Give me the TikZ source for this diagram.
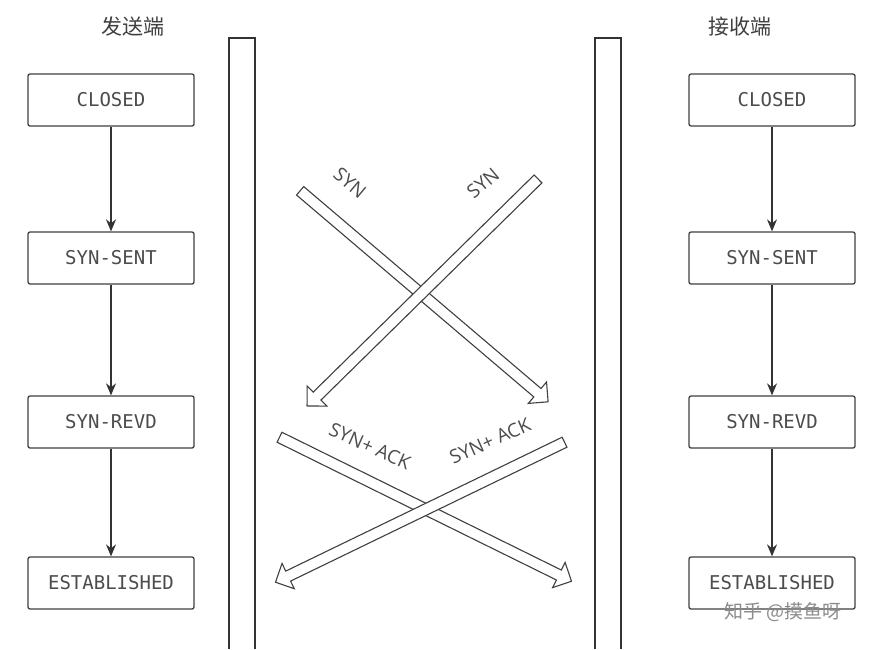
\documentclass[tikz,border=0pt]{standalone}
\usepackage{fontspec}
\setmainfont{Open Sans}
\setmonofont{DejaVu Sans Mono}
\newfontfamily\cjk{Noto Sans CJK SC}
\usetikzlibrary{shapes.arrows,calc,arrows.meta}
\begin{document}
\begin{tikzpicture}[x=1pt,y=-1pt,
  box/.style={draw=black!75,line width=1.3pt,rounded corners=2pt,minimum width=166pt,minimum height=52pt,font=\ttfamily\fontsize{19}{21}\selectfont,text=black!70},
  bar/.style={draw=black!80,line width=1.3pt},
  flow/.style={draw=black!80,line width=1.3pt,-{Stealth[length=12pt,width=10pt]}},
  lab/.style={font=\fontsize{19}{21}\selectfont,text=black!70},
  harrow/.style={single arrow,draw=black!75,line width=1.1pt,inner xsep=0pt,inner ysep=5pt,minimum width=27pt,single arrow head extend=8.5pt,single arrow head indent=0pt,fill=white}]
\useasboundingbox (0,0) rectangle (888,649);
\fill[white] (0,0) rectangle (888,649);
\draw[bar] (229,649) -- (229,38) -- (255,38) -- (255,649);
\draw[bar] (595,649) -- (595,38) -- (621,38) -- (621,649);
\node[font=\cjk\fontsize{21}{23}\selectfont,text=black!75] (hs) at (133,27) {发送端};
\node[font=\cjk\fontsize{21}{23}\selectfont,text=black!75] (hr) at (740,27) {接收端};
\foreach \c/\x in {l/111,r/772}{
 \node[box] (\c1) at (\x,100) {CLOSED};
 \node[box] (\c2) at (\x,258) {SYN-SENT};
 \node[box] (\c3) at (\x,422) {SYN-REVD};
 \node[box] (\c4) at (\x,583) {ESTABLISHED};
 \draw[flow] (\c1) -- (\c2);
 \draw[flow] (\c2) -- (\c3);
 \draw[flow] (\c3) -- (\c4);
}
\newcommand\harr[2]{\path let \p1=($(#2)-(#1)$), \n1={atan2(\y1,\x1)}, \n2={veclen(\x1,\y1)} in
  node[harrow,minimum height=\n2,rotate=\n1] at ($(#1)!0.5!(#2)$) {};}
\coordinate (a1) at (298,189); \coordinate (b1) at (546,400);
\coordinate (a2) at (540,177); \coordinate (b2) at (309,404);
\coordinate (a3) at (277,436); \coordinate (b3) at (569,580);
\coordinate (a4) at (567,441); \coordinate (b4) at (278,581);
\harr{a1}{b1}
\harr{a2}{b2}
\harr{a3}{b3}
\harr{a4}{b4}
\node[lab,rotate=-40] (s1) at (350,183) {SYN};
\node[lab,rotate=40] (s2) at (483,183) {SYN};
\node[lab,rotate=-24] (s3) at (370,446) {SYN+ ACK};
\node[lab,rotate=24] (s4) at (490,441) {SYN+ ACK};
\node[font=\cjk\fontsize{19}{21}\selectfont,text=black!45] (wm) at (783,612) {知乎 @摸鱼呀};
\end{tikzpicture}
\end{document}
